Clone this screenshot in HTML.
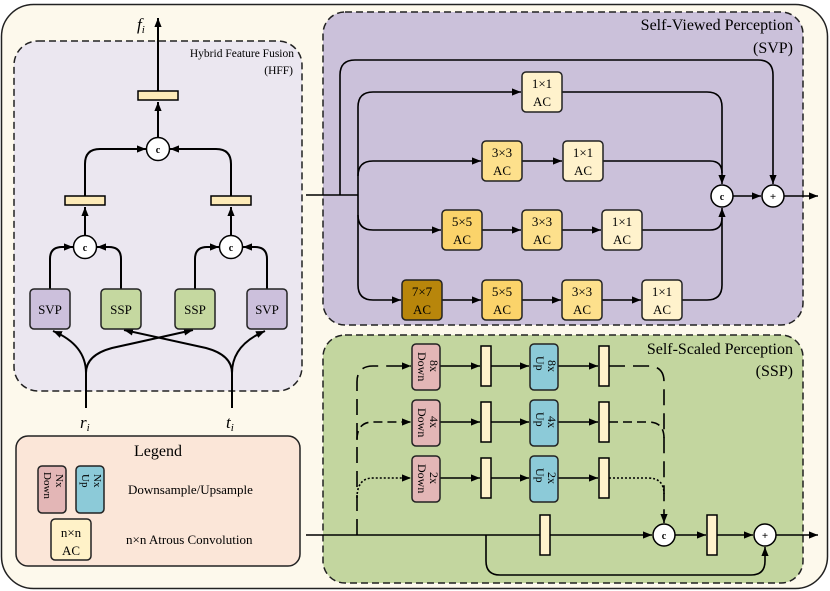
<!DOCTYPE html>
<html><head><meta charset="utf-8"><style>
html,body{margin:0;padding:0;background:#fff;}
svg{display:block;font-family:"Liberation Serif",serif;}
</style></head><body>
<svg width="830" height="591" viewBox="0 0 830 591" xmlns="http://www.w3.org/2000/svg">
<defs>
<marker id="a" viewBox="0 0 10 10" refX="10" refY="5" markerWidth="9" markerHeight="9" markerUnits="userSpaceOnUse" orient="auto"><path d="M0,1 L10,5 L0,9 Z" fill="#000"/></marker>
</defs>
<!-- outer -->
<rect x="1.5" y="4.5" width="826" height="584" rx="32" fill="#fdf9ec" stroke="#222" stroke-width="1.5"/>
<!-- HFF -->
<rect x="14" y="41" width="288" height="350" rx="24" fill="#ebe7f0" stroke="#222" stroke-width="1.5" stroke-dasharray="7,4"/>
<text x="294" y="57" font-size="11.5" text-anchor="end">Hybrid Feature Fusion</text>
<text x="293" y="74" font-size="11.5" text-anchor="end">(HFF)</text>
<g stroke="#000" stroke-width="2" fill="none">
<line x1="158" y1="91" x2="158" y2="18" marker-end="url(#a)"/>
<line x1="158" y1="137" x2="158" y2="102" marker-end="url(#a)"/>
<path d="M85,196 V164 Q85,149 100,149 H146" marker-end="url(#a)"/>
<path d="M231,196 V164 Q231,149 216,149 H170" marker-end="url(#a)"/>
<line x1="85" y1="235" x2="85" y2="207" marker-end="url(#a)"/>
<line x1="231" y1="235" x2="231" y2="207" marker-end="url(#a)"/>
<path d="M50,289 V259 Q50,247 62,247 H73" marker-end="url(#a)"/>
<path d="M121,289 V259 Q121,247 109,247 H97" marker-end="url(#a)"/>
<path d="M195,289 V259 Q195,247 207,247 H219" marker-end="url(#a)"/>
<path d="M267,289 V259 Q267,247 255,247 H243" marker-end="url(#a)"/>
<path d="M86,408 V373 Q86,345 53,331" marker-end="url(#a)"/>
<path d="M86,373 Q86,355 112,348 L193,330" marker-end="url(#a)"/>
<path d="M232,408 V373 Q232,355 206,348 L124,330" marker-end="url(#a)"/>
<path d="M232,373 Q232,345 265,331" marker-end="url(#a)"/>
</g>
<text x="137" y="30" font-size="17" font-style="italic">f<tspan font-size="11" dy="3">i</tspan></text>
<rect x="138" y="91" width="40" height="9" fill="#fdebb8" stroke="#000" stroke-width="1.5"/>
<rect x="65" y="196" width="40" height="9" fill="#fdebb8" stroke="#000" stroke-width="1.5"/>
<rect x="211" y="196" width="40" height="9" fill="#fdebb8" stroke="#000" stroke-width="1.5"/>
<g stroke="#000" stroke-width="1.5" fill="#fff">
<circle cx="158" cy="149" r="11.5"/><circle cx="85" cy="247" r="11.5"/><circle cx="231" cy="247" r="11.5"/>
</g>
<g font-size="10" font-weight="bold" text-anchor="middle"><text x="158" y="153">c</text><text x="85" y="251">c</text><text x="231" y="251">c</text></g>
<g stroke="#222" stroke-width="1.5">
<rect x="30" y="289" width="40" height="40" rx="4" fill="#ccc0dc"/>
<rect x="101" y="289" width="40" height="40" rx="4" fill="#c5d8a0"/>
<rect x="175" y="289" width="40" height="40" rx="4" fill="#c5d8a0"/>
<rect x="247" y="289" width="40" height="40" rx="4" fill="#ccc0dc"/>
</g>
<g font-size="13" text-anchor="middle"><text x="50" y="314">SVP</text><text x="121" y="314">SSP</text><text x="195" y="314">SSP</text><text x="267" y="314">SVP</text></g>
<text x="80" y="428" font-size="17" font-style="italic">r<tspan font-size="11" dy="3">i</tspan></text>
<text x="226" y="428" font-size="17" font-style="italic">t<tspan font-size="11" dy="3">i</tspan></text>
<!-- legend -->
<rect x="16" y="436" width="284" height="130" rx="12" fill="#fbe6d8" stroke="#222" stroke-width="1.5"/>
<text x="158" y="456" font-size="16" text-anchor="middle">Legend</text>
<rect x="38" y="466" width="28" height="47" rx="4" fill="#e3b6b6" stroke="#222" stroke-width="1.5"/>
<rect x="76" y="466" width="28" height="47" rx="4" fill="#8ccad8" stroke="#222" stroke-width="1.5"/>
<g font-size="11" transform="rotate(90)"><text x="474" y="-56">Nx</text><text x="472" y="-44">Down</text><text x="474" y="-94">Nx</text><text x="474" y="-82">Up</text></g>
<text x="128" y="494" font-size="13">Downsample/Upsample</text>
<rect x="51" y="519" width="40" height="41" rx="4" fill="#fff2c8" stroke="#222" stroke-width="1.5"/>
<text x="71" y="537" font-size="13" text-anchor="middle">n×n</text>
<text x="71" y="555" font-size="13" text-anchor="middle">AC</text>
<text x="126" y="544" font-size="13">n×n Atrous Convolution</text>
<!-- SVP -->
<rect x="323" y="12" width="480" height="313" rx="22" fill="#cbc1da" stroke="#222" stroke-width="1.5" stroke-dasharray="7,4"/>
<text x="793" y="30" font-size="16" text-anchor="end">Self-Viewed Perception</text>
<text x="793" y="53" font-size="16" text-anchor="end">(SVP)</text>
<g stroke="#000" stroke-width="1.6" fill="none">
<line x1="306" y1="195" x2="358" y2="195"/>
<path d="M340,195 V75 Q340,60 355,60 H758 Q773,60 773,75 V184" marker-end="url(#a)"/>
<path d="M358,195 V107 Q358,92 373,92 H521" marker-end="url(#a)"/>
<path d="M358,195 V285 Q358,300 373,300 H401" marker-end="url(#a)"/>
<path d="M358,176 Q358,161 373,161 H481" marker-end="url(#a)"/>
<path d="M358,215 Q358,230 373,230 H441" marker-end="url(#a)"/>
<path d="M562,92 H707 Q722,92 722,107 V184" marker-end="url(#a)"/>
<path d="M603,161 H710 Q722,161 722,173"/>
<path d="M642,230 H710 Q722,230 722,218"/>
<path d="M682,300 H707 Q722,300 722,285 V208" marker-end="url(#a)"/>
<line x1="522" y1="161" x2="562" y2="161" marker-end="url(#a)"/>
<line x1="482" y1="230" x2="521" y2="230" marker-end="url(#a)"/>
<line x1="562" y1="230" x2="601" y2="230" marker-end="url(#a)"/>
<line x1="442" y1="300" x2="481" y2="300" marker-end="url(#a)"/>
<line x1="522" y1="300" x2="561" y2="300" marker-end="url(#a)"/>
<line x1="602" y1="300" x2="641" y2="300" marker-end="url(#a)"/>
<line x1="733" y1="196" x2="761" y2="196" marker-end="url(#a)"/>
<line x1="784" y1="196" x2="818" y2="196" marker-end="url(#a)"/>
</g>
<g stroke="#222" stroke-width="1.5">
<rect x="522" y="72" width="40" height="40" rx="4" fill="#fff2cc"/>
<rect x="482" y="141" width="40" height="40" rx="4" fill="#fde08c"/>
<rect x="563" y="141" width="40" height="40" rx="4" fill="#fff2cc"/>
<rect x="442" y="210" width="40" height="40" rx="4" fill="#fbd36a"/>
<rect x="522" y="210" width="40" height="40" rx="4" fill="#fde08c"/>
<rect x="602" y="210" width="40" height="40" rx="4" fill="#fff2cc"/>
<rect x="402" y="280" width="40" height="40" rx="4" fill="#b8860b"/>
<rect x="482" y="280" width="40" height="40" rx="4" fill="#fbd36a"/>
<rect x="562" y="280" width="40" height="40" rx="4" fill="#fde08c"/>
<rect x="642" y="280" width="40" height="40" rx="4" fill="#fff2cc"/>
</g>
<g font-size="13" text-anchor="middle">
<text x="542" y="88">1×1</text><text x="542" y="106">AC</text>
<text x="502" y="157">3×3</text><text x="502" y="175">AC</text>
<text x="583" y="157">1×1</text><text x="583" y="175">AC</text>
<text x="462" y="226">5×5</text><text x="462" y="244">AC</text>
<text x="542" y="226">3×3</text><text x="542" y="244">AC</text>
<text x="622" y="226">1×1</text><text x="622" y="244">AC</text>
<text x="422" y="296">7×7</text><text x="422" y="314">AC</text>
<text x="502" y="296">5×5</text><text x="502" y="314">AC</text>
<text x="582" y="296">3×3</text><text x="582" y="314">AC</text>
<text x="662" y="296">1×1</text><text x="662" y="314">AC</text>
</g>
<circle cx="722" cy="196" r="11" fill="#fff" stroke="#000" stroke-width="1.5"/>
<circle cx="773" cy="196" r="11" fill="#fff" stroke="#000" stroke-width="1.5"/>
<text x="722" y="200" font-size="10" font-weight="bold" text-anchor="middle">c</text>
<text x="773" y="200" font-size="11" font-weight="bold" text-anchor="middle">+</text>
<!-- SSP -->
<rect x="323" y="335" width="480" height="248" rx="22" fill="#c3d69f" stroke="#222" stroke-width="1.5" stroke-dasharray="7,4"/>
<text x="793" y="354" font-size="16" text-anchor="end">Self-Scaled Perception</text>
<text x="793" y="376" font-size="16" text-anchor="end">(SSP)</text>
<g stroke="#000" stroke-width="1.6" fill="none">
<line x1="306" y1="535" x2="652" y2="535" marker-end="url(#a)"/>
<path d="M357,535 V382 Q357,366 373,366 H411" stroke-dasharray="16,8" marker-end="url(#a)"/>
<path d="M357,440 Q357,422 373,422 H411" stroke-dasharray="9,5" marker-end="url(#a)"/>
<path d="M357,498 Q357,478 373,478 H411" stroke-dasharray="2,2" marker-end="url(#a)"/>
<path d="M609,366 H648 Q664,366 664,382 V523" stroke-dasharray="16,8" marker-end="url(#a)"/>
<path d="M609,422 H648 Q664,422 664,438" stroke-dasharray="9,5"/>
<path d="M609,478 H648 Q664,478 664,494" stroke-dasharray="2,2"/>
<line x1="440" y1="366" x2="480" y2="366" marker-end="url(#a)"/>
<line x1="491" y1="366" x2="529" y2="366" marker-end="url(#a)"/>
<line x1="558" y1="366" x2="598" y2="366" marker-end="url(#a)"/>
<line x1="440" y1="422" x2="480" y2="422" marker-end="url(#a)"/>
<line x1="491" y1="422" x2="529" y2="422" marker-end="url(#a)"/>
<line x1="558" y1="422" x2="598" y2="422" marker-end="url(#a)"/>
<line x1="440" y1="478" x2="480" y2="478" marker-end="url(#a)"/>
<line x1="491" y1="478" x2="529" y2="478" marker-end="url(#a)"/>
<line x1="558" y1="478" x2="598" y2="478" marker-end="url(#a)"/>
<line x1="675" y1="535" x2="706" y2="535" marker-end="url(#a)"/>
<line x1="717" y1="535" x2="753" y2="535" marker-end="url(#a)"/>
<line x1="776" y1="535" x2="818" y2="535" marker-end="url(#a)"/>
<path d="M486,535 V561 Q486,575 500,575 H751 Q765,575 765,561 V547" marker-end="url(#a)"/>
</g>
<g stroke="#222" stroke-width="1.5">
<rect x="412" y="344" width="28" height="46" rx="4" fill="#e3b6b6"/>
<rect x="412" y="400" width="28" height="46" rx="4" fill="#e3b6b6"/>
<rect x="412" y="456" width="28" height="46" rx="4" fill="#e3b6b6"/>
<rect x="530" y="344" width="28" height="46" rx="4" fill="#8ccad8"/>
<rect x="530" y="400" width="28" height="46" rx="4" fill="#8ccad8"/>
<rect x="530" y="456" width="28" height="46" rx="4" fill="#8ccad8"/>
</g>
<g stroke="#000" stroke-width="1.5" fill="#fff2cc">
<rect x="481" y="346" width="10" height="40"/><rect x="599" y="346" width="10" height="40"/>
<rect x="481" y="402" width="10" height="40"/><rect x="599" y="402" width="10" height="40"/>
<rect x="481" y="458" width="10" height="40"/><rect x="599" y="458" width="10" height="40"/>
<rect x="540" y="515" width="10" height="40"/><rect x="707" y="515" width="10" height="40"/>
</g>
<g font-size="12" transform="rotate(90)">
<text x="360" y="-430">8x</text><text x="352" y="-418">Down</text>
<text x="416" y="-430">4x</text><text x="408" y="-418">Down</text>
<text x="472" y="-430">2x</text><text x="464" y="-418">Down</text>
<text x="360" y="-548">8x</text><text x="356" y="-536">Up</text>
<text x="416" y="-548">4x</text><text x="412" y="-536">Up</text>
<text x="472" y="-548">2x</text><text x="468" y="-536">Up</text>
</g>
<circle cx="664" cy="535" r="11" fill="#fff" stroke="#000" stroke-width="1.5"/>
<circle cx="765" cy="535" r="11" fill="#fff" stroke="#000" stroke-width="1.5"/>
<text x="664" y="539" font-size="10" font-weight="bold" text-anchor="middle">c</text>
<text x="765" y="539" font-size="11" font-weight="bold" text-anchor="middle">+</text>
</svg>
</body></html>
